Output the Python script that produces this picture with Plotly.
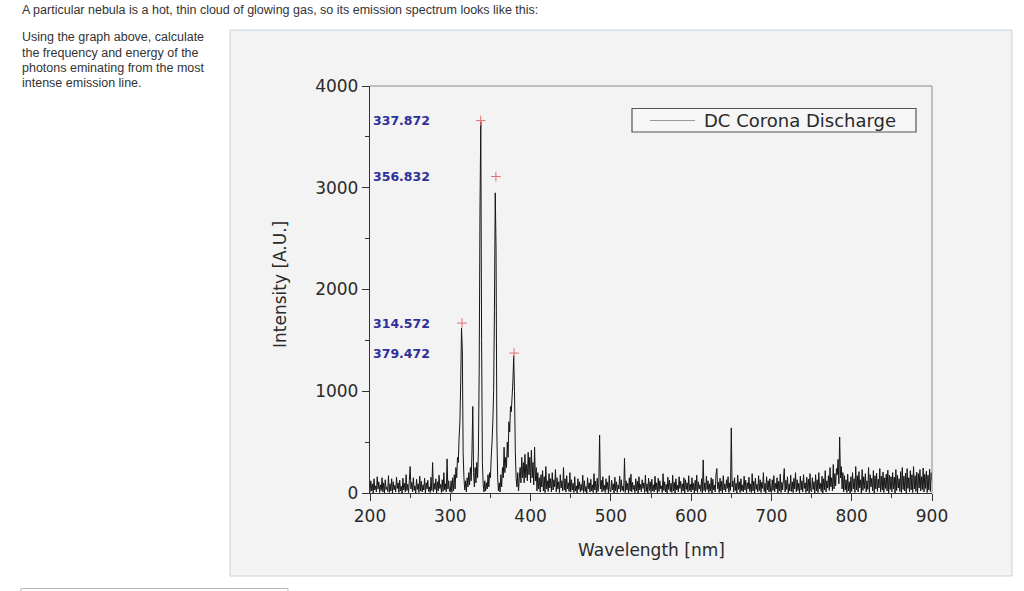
import plotly.graph_objects as go

# spectrum, one value per nm, one list per 50 nm
uv_200 = [5, 120, 20, 90, 0, 140, 30, 70, 10, 160, 40, 110, 5, 80, 25, 150, 10, 100, 0, 130,
          35, 60, 15, 170, 5, 90, 20, 140, 0, 110, 30, 75, 10, 155, 45, 100, 5, 125, 20, 65,
          0, 145, 30, 95, 10, 180, 25, 85, 5, 120]
uv_250 = [260, 40, 105, 10, 150, 25, 70, 0, 135, 35, 90, 5, 165, 20, 115, 10, 80, 30, 145, 0,
          100, 40, 125, 15, 60, 5, 155, 25, 300, 10, 95, 35, 140, 0, 110, 20, 175, 45, 85, 5,
          130, 15, 200, 30, 90, 10, 335, 40, 120, 20]
uv_300 = [10, 120, 5, 150, 20, 180, 40, 250, 150, 350, 300, 550, 700, 1100, 1620, 1400, 400, 150, 30, 120,
          10, 150, 60, 200, 80, 250, 120, 400, 850, 200, 60, 250, 100, 300, 150, 400, 1200, 2800, 3650, 1500,
          300, 80, 10, 120, 20, 100, 40, 180, 60, 200]
uv_350 = [150, 350, 500, 700, 1000, 1800, 2950, 2400, 600, 150, 20, 100, 10, 180, 60, 250, 150, 450, 200, 350,
          250, 500, 350, 700, 600, 850, 800, 950, 1100, 1350, 1000, 400, 150, 60, 200, 20, 150, 250, 100, 350,
          150, 300, 100, 380, 150, 280, 120, 400, 180, 350]
vis_400 = [100, 420, 150, 300, 80, 450, 120, 250, 20, 200, 40, 150, 10, 180, 60, 220, 20, 160, 5, 260,
           40, 120, 15, 190, 50, 140, 10, 200, 30, 130, 60, 230, 10, 150, 40, 110, 5, 180, 50, 120,
           20, 250, 30, 140, 10, 170, 40, 100, 15, 200]
vis_450 = [10, 130, 30, 95, 5, 160, 20, 70, 0, 140, 35, 110, 10, 85, 25, 175, 5, 120, 15, 65,
           0, 150, 40, 100, 10, 135, 20, 80, 5, 190, 30, 115, 0, 145, 15, 90, 570, 40, 125, 10,
           160, 25, 75, 5, 140, 35, 105, 0, 170, 20]
vis_500 = [10, 125, 30, 90, 0, 155, 20, 110, 5, 80, 40, 165, 10, 130, 25, 70, 15, 340, 5, 120,
           30, 95, 0, 150, 20, 185, 10, 105, 35, 75, 5, 140, 20, 115, 0, 160, 30, 85, 10, 130,
           45, 100, 5, 175, 15, 90, 0, 145, 25, 110]
vis_550 = [5, 135, 20, 80, 10, 165, 30, 100, 0, 145, 15, 120, 40, 70, 5, 190, 25, 110, 10, 85,
           0, 155, 35, 125, 15, 95, 5, 175, 20, 105, 0, 140, 30, 75, 10, 160, 45, 115, 5, 90,
           20, 150, 0, 130, 35, 100, 10, 170, 25, 85]
vis_600 = [10, 150, 30, 95, 0, 125, 20, 175, 5, 110, 40, 80, 15, 140, 0, 325, 25, 100, 10, 165,
           35, 120, 5, 90, 20, 150, 0, 135, 30, 75, 10, 185, 240, 40, 105, 5, 145, 20, 115, 0,
           170, 30, 90, 10, 130, 45, 160, 5, 100, 25]
vis_650 = [640, 60, 120, 10, 150, 25, 95, 0, 175, 35, 110, 5, 140, 20, 80, 10, 165, 30, 125, 0,
           100, 40, 155, 15, 90, 5, 190, 20, 115, 0, 145, 35, 85, 10, 170, 25, 130, 5, 105, 45,
           200, 15, 95, 0, 160, 30, 120, 10, 140, 20]
nir_700 = [5, 130, 25, 170, 10, 95, 40, 150, 0, 115, 20, 185, 5, 105, 30, 140, 240, 10, 125, 35,
           160, 0, 90, 20, 175, 15, 110, 5, 145, 40, 200, 10, 130, 25, 95, 0, 165, 30, 120, 10,
           180, 45, 100, 5, 155, 20, 135, 0, 190, 30]
nir_750 = [10, 150, 35, 110, 0, 180, 20, 130, 5, 200, 40, 95, 15, 165, 0, 140, 30, 220, 10, 120,
           50, 170, 25, 250, 60, 150, 20, 280, 40, 190, 70, 240, 180, 330, 90, 550, 150, 260, 40, 200,
           10, 170, 30, 130, 5, 185, 20, 110, 0, 160]
nir_800 = [15, 200, 40, 140, 5, 260, 30, 170, 10, 210, 50, 130, 0, 230, 25, 160, 45, 190, 10, 120,
           35, 250, 5, 180, 60, 145, 20, 220, 0, 170, 40, 195, 15, 135, 50, 240, 10, 165, 30, 205,
           5, 150, 45, 185, 20, 225, 0, 175, 35, 160]
nir_850 = [10, 200, 40, 155, 0, 230, 25, 175, 50, 140, 15, 210, 5, 250, 35, 165, 20, 195, 0, 240,
           45, 150, 10, 220, 30, 180, 5, 260, 40, 170, 15, 205, 0, 190, 50, 230, 20, 160, 35, 245,
           10, 185, 45, 215, 5, 175, 30, 235, 15, 200, 120]

segments = [(200, uv_200), (250, uv_250), (300, uv_300), (350, uv_350), (400, vis_400),
            (450, vis_450), (500, vis_500), (550, vis_550), (600, vis_600), (650, vis_650),
            (700, nir_700), (750, nir_750), (800, nir_800), (850, nir_850)]
wavelength, intensity = [], []
for start, row in segments:
    wavelength += [start + i for i in range(len(row))]
    intensity += row

peak_wavelength = [337.872, 356.832, 314.572, 379.472]
peak_intensity = [3660, 3110, 1670, 1375]
peak_labels = ["337.872", "356.832", "314.572", "379.472"]

page_title = "A particular nebula is a hot, thin cloud of glowing gas, so its emission spectrum looks like this:"
question_lines = [
    "Using the graph above, calculate",
    "the frequency and energy of the",
    "photons eminating from the most",
    "intense emission line.",
]
legend_name = "DC Corona Discharge"

# plot area in page pixels
W, H = 1024, 591
L, R, T, B = 370, 932, 86, 493


def px(x):
    return (x - L) / (R - L)


def py(y):
    return (B - y) / (B - T)


CHART_FONT = "DejaVu Sans"
PAGE_FONT = "Liberation Sans"

fig = go.Figure()

fig.add_trace(go.Scatter(x=wavelength, y=intensity, mode="lines", name=legend_name,
                         line=dict(color="#151515", width=1, simplify=False),
                         showlegend=False, hoverinfo="x+y"))
fig.add_trace(go.Scatter(x=peak_wavelength, y=peak_intensity, mode="markers",
                         marker=dict(symbol="cross-thin", size=7,
                                     line=dict(color="#e07070", width=1)),
                         showlegend=False))

anns = []
for lab, val in zip(peak_labels, peak_intensity):
    anns.append(dict(xref="paper", yref="y", x=px(371), y=val, text="<b>" + lab + "</b>",
                     showarrow=False, xanchor="left", yanchor="middle",
                     font=dict(family=CHART_FONT, size=12.5, color="#2f2f9a")))

anns.append(dict(xref="paper", yref="paper", x=px(20), y=py(10), text=page_title,
                 showarrow=False, xanchor="left", yanchor="middle",
                 font=dict(family=PAGE_FONT, size=12.5, color="#333333")))
for i, line in enumerate(question_lines):
    anns.append(dict(xref="paper", yref="paper", x=px(20), y=py(37 + 15.5 * i), text=line,
                     showarrow=False, xanchor="left", yanchor="middle",
                     font=dict(family=PAGE_FONT, size=12.5, color="#333333")))

anns.append(dict(xref="paper", yref="paper", x=px(280), y=py(285), text="Intensity [A.U.]",
                 textangle=-90, showarrow=False, xanchor="center", yanchor="middle",
                 font=dict(family=CHART_FONT, size=17, color="#2a2a2a")))
anns.append(dict(xref="paper", yref="paper", x=px(651), y=py(550), text="Wavelength [nm]",
                 showarrow=False, xanchor="center", yanchor="middle",
                 font=dict(family=CHART_FONT, size=17, color="#2a2a2a")))
# legend text
anns.append(dict(xref="paper", yref="paper", x=px(702), y=py(120.5), text=legend_name,
                 showarrow=False, xanchor="left", yanchor="middle",
                 font=dict(family=CHART_FONT, size=18, color="#2a2a2a")))

shapes = [
    # picture box
    dict(type="rect", xref="paper", yref="paper", x0=px(230), x1=px(1012), y0=py(576), y1=py(30),
         fillcolor="#f3f3f3", line=dict(color="#c6d3e0", width=1), layer="below"),
    # answer box at the bottom
    dict(type="rect", xref="paper", yref="paper", x0=px(21), x1=px(288), y0=py(600), y1=py(588.5),
         fillcolor="white", line=dict(color="#b8b8b8", width=1), layer="below"),
    # frame top / right
    dict(type="line", xref="paper", yref="paper", x0=0, x1=1, y0=1, y1=1,
         line=dict(color="#8a8a8a", width=1)),
    dict(type="line", xref="paper", yref="paper", x0=1, x1=1, y0=0, y1=1,
         line=dict(color="#8a8a8a", width=1)),
    # legend box and line sample
    dict(type="rect", xref="paper", yref="paper", x0=px(632), x1=px(916), y0=py(132), y1=py(108.5),
         fillcolor="#f6f6f6", line=dict(color="#555555", width=1.2)),
    dict(type="line", xref="paper", yref="paper", x0=px(650), x1=px(695), y0=py(120.5), y1=py(120.5),
         line=dict(color="#9a9a9a", width=1)),
]

fig.update_layout(
    width=W, height=H,
    margin=dict(l=L, r=W - R, t=T, b=H - B),
    paper_bgcolor="white",
    plot_bgcolor="rgba(0,0,0,0)",
    font=dict(family=CHART_FONT, color="#2a2a2a"),
    annotations=anns,
    shapes=shapes,
    showlegend=False,
    xaxis=dict(range=[200, 900], dtick=100, tick0=200, showgrid=False, zeroline=False,
               showline=True, linecolor="#333333", linewidth=1.3,
               ticks="outside", ticklen=7, tickcolor="#333333",
               tickfont=dict(family=CHART_FONT, size=17, color="#2a2a2a"),
               minor=dict(dtick=50, ticks="outside", ticklen=4, tickcolor="#333333")),
    yaxis=dict(range=[0, 4000], dtick=1000, showgrid=False, zeroline=False,
               showline=True, linecolor="#333333", linewidth=1.3,
               ticks="outside", ticklen=7, tickcolor="#333333",
               tickfont=dict(family=CHART_FONT, size=17, color="#2a2a2a"),
               minor=dict(dtick=500, ticks="outside", ticklen=4, tickcolor="#333333")),
)

# drop the browser's default body margin so the figure sits at the page corner
fig.write_html("out.html", config={"displayModeBar": False},
               post_script="document.body.style.margin='0';document.body.style.overflow='hidden';")
